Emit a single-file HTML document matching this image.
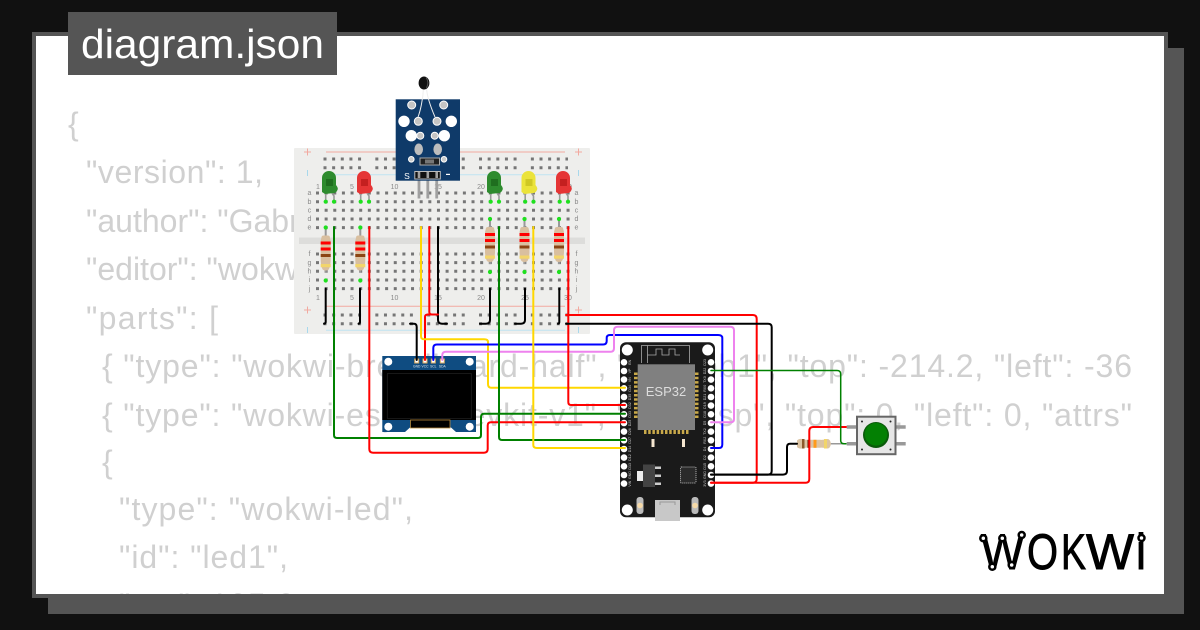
<!DOCTYPE html>
<html><head><meta charset="utf-8"><style>
html,body{margin:0;padding:0;background:#111;width:1200px;height:630px;overflow:hidden}
svg{display:block;font-family:"Liberation Sans",sans-serif}
.c{font-size:32px;fill:#d0d0d0}
.w{fill:none;stroke-width:2;stroke-linejoin:round;stroke-linecap:round}
.p{font-size:3.6px;fill:#ccc}
.n{font-size:7px;fill:#8a8a8a;text-anchor:middle}
</style></head><body>
<svg width="1200" height="630" viewBox="0 0 1200 630" xmlns="http://www.w3.org/2000/svg">
<defs>
<clipPath id="cl"><rect x="36" y="36" width="1096" height="558"/></clipPath>
<g id="legs"><path d="M-3.3 22V29.5M3 22L5 25V30" stroke="#999" stroke-width="1.6" fill="none"/>
<circle cx="-3.3" cy="30.7" r="2.1" fill="#1ee01e"/><circle cx="5" cy="30.7" r="2.1" fill="#1ee01e"/></g>
<g id="res"><rect x="-1" y="-9" width="2" height="44" fill="#999"/>
<path d="M-4.2 0Q-4.2 -2 -2 -2H2Q4.200 -2 4.200 0Q5 2 5 5V23Q5 26 4.200 28Q4.200 33 0 33Q-4.200 33 -4.200 28Q-5 26 -5 23V5Q-5 2 -4.200 0Z" fill="#d9bf9f"/>
<rect x="-5" y="4" width="10" height="3" fill="#f00"/><rect x="-5" y="10" width="10" height="3" fill="#f00"/>
<rect x="-5" y="16.5" width="10" height="3" fill="#8b4513"/><rect x="-5" y="26.5" width="10" height="3.2" fill="#f2d56a"/>
<circle cy="-10" r="2.1" fill="#1ee01e"/><circle cy="43" r="2.1" fill="#1ee01e"/></g>
</defs>

<rect x="48" y="48" width="1136" height="566" fill="#555"/>
<rect x="32" y="32" width="1136" height="566" fill="#555"/>
<rect x="36" y="36" width="1128" height="558" fill="#fff"/>

<g clip-path="url(#cl)" class="c">
<text x="68" y="135" class="c">{</text>
<text x="86" y="183" class="c" textLength="177">"version": 1,</text>
<text x="86" y="232" class="c">"author": "Gabriel Santos",</text>
<text x="86" y="280" class="c">"editor": "wokwi",</text>
<text x="86" y="329" class="c" textLength="132">"parts": [</text>
<text x="102" y="377" class="c" textLength="1030">{ "type": "wokwi-breadboard-half", "id": "bb1", "top": -214.2, "left": -36</text>
<text x="102" y="426" class="c" textLength="1030">{ "type": "wokwi-esp32-devkit-v1", "id": "esp", "top": 0, "left": 0, "attrs"</text>
<text x="102" y="473" class="c">{</text>
<text x="119" y="520" class="c" textLength="294">"type": "wokwi-led",</text>
<text x="119" y="568" class="c" textLength="169">"id": "led1",</text>
<text x="119" y="616" class="c" textLength="185">"top": 105.6,</text>
</g>

<rect x="68" y="12" width="269" height="63" fill="#555"/>
<text x="81" y="58" font-size="41" fill="#fff" textLength="243" lengthAdjust="spacingAndGlyphs">diagram.json</text>

<!-- Breadboard -->
<rect x="294" y="148" width="296" height="186" rx="1" fill="#eeeeec"/>
<rect x="299" y="237.5" width="286" height="6.5" fill="#dddddb"/>
<path d="M326 152H565M326 306.3H565" stroke="#f2a9a0" stroke-width="1"/>
<path d="M326 174.7H565M326 330.3H565" stroke="#bfe3f2" stroke-width="1"/>
<path d="M304 152H311M307.5 148.5V155.5M575 152H582M578.5 148.5V155.5M304 310H311M307.5 306.5V313.5M575 310H582M578.5 306.5V313.5" stroke="#f2a9a0" stroke-width="1"/>
<path d="M307.5 170V176M578.5 170V176M307.5 327V333M578.5 327V333" stroke="#a8d8ec" stroke-width="1"/>
<g stroke="#767676" stroke-width="3" stroke-dasharray="3 5.64 3 5.64 3 5.64 3 5.64 3 14.28">
<path d="M323.5 159H568M323.5 167.7H568M323.5 315H568M323.5 323.7H568"/></g>
<g stroke="#767676" stroke-width="3" stroke-dasharray="3 5.64">
<path d="M316 193H570M316 201.7H570M316 210.3H570M316 219H570M316 227.6H570M316 254H570M316 262.6H570M316 271.3H570M316 280H570M316 288.6H570"/></g>
<g class="n">
<text x="318" y="189" class="n">1</text><text x="352" y="189" class="n">5</text><text x="394.500" y="189" class="n">10</text><text x="438" y="189" class="n">15</text><text x="481" y="189" class="n">20</text><text x="525" y="189" class="n">25</text><text x="568" y="189" class="n">30</text>
<text x="318" y="300" class="n">1</text><text x="352" y="300" class="n">5</text><text x="394.500" y="300" class="n">10</text><text x="438" y="300" class="n">15</text><text x="481" y="300" class="n">20</text><text x="525" y="300" class="n">25</text><text x="568" y="300" class="n">30</text>
<text x="309.500" y="195" class="n">a</text><text x="309.500" y="204" class="n">b</text><text x="309.500" y="212.500" class="n">c</text><text x="309.500" y="221" class="n">d</text><text x="309.500" y="229.500" class="n">e</text>
<text x="309.500" y="256" class="n">f</text><text x="309.500" y="265" class="n">g</text><text x="309.500" y="273.500" class="n">h</text><text x="309.500" y="282" class="n">i</text><text x="309.500" y="291" class="n">j</text>
<text x="576.500" y="195" class="n">a</text><text x="576.500" y="204" class="n">b</text><text x="576.500" y="212.500" class="n">c</text><text x="576.500" y="221" class="n">d</text><text x="576.500" y="229.500" class="n">e</text>
<text x="576.500" y="256" class="n">f</text><text x="576.500" y="265" class="n">g</text><text x="576.500" y="273.500" class="n">h</text><text x="576.500" y="282" class="n">i</text><text x="576.500" y="291" class="n">j</text>
</g>

<!-- Sensor module -->
<path d="M419 173V198.500M427.800 173V198.500M436.700 173V198.500" stroke="#a0a0a0" stroke-width="2.800"/>
<rect x="395.700" y="99.300" width="64.300" height="81.400" fill="#0f3a69"/>
<g fill="#fff"><circle cx="404" cy="121.300" r="5.700"/><circle cx="451.300" cy="121.300" r="5.700"/><circle cx="411.300" cy="135.700" r="5.700"/><circle cx="444.300" cy="135.700" r="5.700"/></g>
<g fill="#c4c4c4" stroke="#fff" stroke-width="1"><circle cx="411.700" cy="105" r="4"/><circle cx="443.700" cy="105" r="4"/><circle cx="418.300" cy="121.300" r="4"/><circle cx="437" cy="121.300" r="4"/><circle cx="420.300" cy="135.700" r="3.500"/><circle cx="434.700" cy="135.700" r="3.500"/></g>
<ellipse cx="418.700" cy="149.300" rx="4.300" ry="5.800" fill="#bdbdbd"/><ellipse cx="437.700" cy="149.300" rx="4.300" ry="5.800" fill="#bdbdbd"/>
<circle cx="411.300" cy="159.300" r="2.800" fill="#ccc" stroke="#fff"/><circle cx="444" cy="159.300" r="2.800" fill="#ccc" stroke="#fff"/>
<rect x="420" y="158" width="19.500" height="7" fill="#222" stroke="#aaa" stroke-width="1"/><rect x="425" y="159.500" width="9" height="4" fill="#777"/>
<text x="407" y="179" font-size="8.500" fill="#fff" text-anchor="middle">S</text>
<rect x="446" y="173.800" width="4" height="1.200" fill="#fff"/>
<rect x="414.800" y="171.500" width="25.500" height="7.500" fill="#111" stroke="#bbb" stroke-width="1"/>
<path d="M419 172V178M427.800 172V178M436.700 172V178" stroke="#a0a0a0" stroke-width="2.600"/>
<path d="M423.500 88C423 100 420 112 418 117M426.500 88C427 98 432 110 435 117" stroke="#eee" stroke-width="1" fill="none"/>
<ellipse cx="424" cy="83" rx="5.400" ry="6.500" fill="#111"/><path d="M426 77.500Q429.500 82 426.500 88" stroke="#555" stroke-width="1" fill="none"/>

<!-- LEDs -->
<g transform="translate(329,171)"><use href="#legs"/><path d="M-7 21V7A7 7 0 0 1 7 7V14Q9.500 17 8.500 19Q7 22 5 22L-4 23Z" fill="#2e8b2e"/><rect x="-3" y="8" width="7" height="7" fill="#1f6e1f"/></g>
<g transform="translate(364,171)"><use href="#legs"/><path d="M-7 21V7A7 7 0 0 1 7 7V14Q9.500 17 8.500 19Q7 22 5 22L-4 23Z" fill="#e53535"/><rect x="-3" y="8" width="7" height="7" fill="#c42020"/></g>
<g transform="translate(494,171)"><use href="#legs"/><path d="M-7 21V7A7 7 0 0 1 7 7V14Q9.500 17 8.500 19Q7 22 5 22L-4 23Z" fill="#2e8b2e"/><rect x="-3" y="8" width="7" height="7" fill="#1f6e1f"/></g>
<g transform="translate(528.500,171)"><use href="#legs"/><path d="M-7 21V7A7 7 0 0 1 7 7V14Q9.500 17 8.500 19Q7 22 5 22L-4 23Z" fill="#ebe33a"/><rect x="-3" y="8" width="7" height="7" fill="#cfc824"/></g>
<g transform="translate(563,171)"><use href="#legs"/><path d="M-7 21V7A7 7 0 0 1 7 7V14Q9.500 17 8.500 19Q7 22 5 22L-4 23Z" fill="#e53535"/><rect x="-3" y="8" width="7" height="7" fill="#c42020"/></g>

<!-- vertical resistors -->
<use href="#res" x="325.700" y="237.500"/><use href="#res" x="360.300" y="237.500"/>
<use href="#res" x="490" y="229"/><use href="#res" x="524.500" y="229"/><use href="#res" x="559" y="229"/>

<!-- OLED -->
<path d="M382.300 356H476V432H456L451 427.500H410L405 432H382.300Z" fill="#0f4c81"/>
<rect x="382.300" y="370" width="93.700" height="50" fill="#000"/>
<rect x="387.300" y="373.500" width="84" height="45" fill="none" stroke="#222" stroke-width="0.700"/>
<rect x="410.500" y="420" width="39.500" height="8" fill="#000" stroke="#b8893a" stroke-width="0.800"/>
<g fill="#fff"><circle cx="388.300" cy="361.700" r="4"/><circle cx="469.700" cy="361.700" r="4"/><circle cx="388.300" cy="426.700" r="4"/><circle cx="469.700" cy="426.700" r="4"/></g>
<g fill="#fff" stroke="#d9a860" stroke-width="1"><rect x="414.700" y="359" width="4" height="4"/><rect x="423" y="359" width="4" height="4"/><rect x="431.300" y="359" width="4" height="4"/><rect x="440.300" y="359" width="4" height="4"/></g>
<g font-size="3.300" fill="#dfe8f0" text-anchor="middle"><text x="416.700" y="367.500">GND</text><text x="425" y="367.500">VCC</text><text x="433.300" y="367.500">SCL</text><text x="442.300" y="367.500">SDA</text></g>

<!-- ESP32 -->
<rect x="620" y="342.300" width="95" height="175" rx="6" fill="#1a1a1a"/>
<g fill="#fff"><circle cx="627.300" cy="350" r="5.500"/><circle cx="707.700" cy="350" r="5.500"/><circle cx="627.300" cy="510" r="5.500"/><circle cx="707.700" cy="510" r="5.500"/></g>
<path d="M641.500 363V345.500H689.500V363M647.500 363V345.500M647.500 355H656V349H662V355H669V349H675V355H680" fill="none" stroke="#aaa" stroke-width="0.800"/>
<g fill="#c9a94a">
<path d="M634 372.500h3.500v2.500h-3.500zM634 376.800h3.500v2.500h-3.500zM634 381.100h3.500v2.500h-3.500zM634 385.400h3.500v2.500h-3.500zM634 389.700h3.500v2.500h-3.500zM634 394h3.500v2.500h-3.500zM634 398.300h3.500v2.500h-3.500zM634 402.600h3.500v2.500h-3.500zM634 406.900h3.500v2.500h-3.500zM634 411.200h3.500v2.500h-3.500zM634 415.500h3.500v2.500h-3.500z"/>
<path d="M695 372.500h3.500v2.500h-3.500zM695 376.800h3.500v2.500h-3.500zM695 381.100h3.500v2.500h-3.500zM695 385.400h3.500v2.500h-3.500zM695 389.700h3.500v2.500h-3.500zM695 394h3.500v2.500h-3.500zM695 398.300h3.500v2.500h-3.500zM695 402.600h3.500v2.500h-3.500zM695 406.900h3.500v2.500h-3.500zM695 411.200h3.500v2.500h-3.500zM695 415.500h3.500v2.500h-3.500z"/>
<path d="M644 430h2.500v4h-2.500zM648.200 430h2.500v4h-2.500zM652.400 430h2.500v4h-2.500zM656.600 430h2.500v4h-2.500zM660.800 430h2.500v4h-2.500zM665 430h2.500v4h-2.500zM669.200 430h2.500v4h-2.500zM673.400 430h2.500v4h-2.500zM677.600 430h2.500v4h-2.500zM681.800 430h2.500v4h-2.500zM686 430h2.500v4h-2.500z"/></g>
<rect x="637.700" y="364.300" width="57.300" height="65.700" fill="#808080"/>
<text x="666" y="396" font-size="13" fill="#ddd" text-anchor="middle">ESP32</text>
<g fill="#fff"><circle cx="624" cy="362.300" r="3.300"/><circle cx="624" cy="371" r="3.300"/><circle cx="624" cy="379.600" r="3.300"/><circle cx="624" cy="388.300" r="3.300"/><circle cx="624" cy="397" r="3.300"/><circle cx="624" cy="405.600" r="3.300"/><circle cx="624" cy="414.300" r="3.300"/><circle cx="624" cy="423" r="3.300"/><circle cx="624" cy="431.600" r="3.300"/><circle cx="624" cy="440.300" r="3.300"/><circle cx="624" cy="449" r="3.300"/><circle cx="624" cy="457.600" r="3.300"/><circle cx="624" cy="466.300" r="3.300"/><circle cx="624" cy="475" r="3.300"/><circle cx="624" cy="483.600" r="3.300"/>
<circle cx="711" cy="362.300" r="3.300"/><circle cx="711" cy="371" r="3.300"/><circle cx="711" cy="379.600" r="3.300"/><circle cx="711" cy="388.300" r="3.300"/><circle cx="711" cy="397" r="3.300"/><circle cx="711" cy="405.600" r="3.300"/><circle cx="711" cy="414.300" r="3.300"/><circle cx="711" cy="423" r="3.300"/><circle cx="711" cy="431.600" r="3.300"/><circle cx="711" cy="440.300" r="3.300"/><circle cx="711" cy="449" r="3.300"/><circle cx="711" cy="457.600" r="3.300"/><circle cx="711" cy="466.300" r="3.300"/><circle cx="711" cy="475" r="3.300"/><circle cx="711" cy="483.600" r="3.300"/></g>
<g class="p" text-anchor="middle">
<text transform="translate(631,362.300) rotate(-90)" class="p">EN</text><text transform="translate(631,371) rotate(-90)" class="p">VP</text><text transform="translate(631,379.600) rotate(-90)" class="p">VN</text><text transform="translate(631,388.300) rotate(-90)" class="p">D34</text><text transform="translate(631,397) rotate(-90)" class="p">D35</text><text transform="translate(631,405.600) rotate(-90)" class="p">D32</text><text transform="translate(631,414.300) rotate(-90)" class="p">D33</text><text transform="translate(631,423) rotate(-90)" class="p">D25</text><text transform="translate(631,431.600) rotate(-90)" class="p">D26</text><text transform="translate(631,440.300) rotate(-90)" class="p">D27</text><text transform="translate(631,449) rotate(-90)" class="p">D14</text><text transform="translate(631,457.600) rotate(-90)" class="p">D12</text><text transform="translate(631,466.300) rotate(-90)" class="p">D13</text><text transform="translate(631,475) rotate(-90)" class="p">GND</text><text transform="translate(631,483.600) rotate(-90)" class="p">VIN</text>
<text transform="translate(706,362.300) rotate(-90)" class="p">D23</text><text transform="translate(706,371) rotate(-90)" class="p">D22</text><text transform="translate(706,379.600) rotate(-90)" class="p">TX0</text><text transform="translate(706,388.300) rotate(-90)" class="p">RX0</text><text transform="translate(706,397) rotate(-90)" class="p">D21</text><text transform="translate(706,405.600) rotate(-90)" class="p">D19</text><text transform="translate(706,414.300) rotate(-90)" class="p">D18</text><text transform="translate(706,423) rotate(-90)" class="p">D5</text><text transform="translate(706,431.600) rotate(-90)" class="p">TX2</text><text transform="translate(706,440.300) rotate(-90)" class="p">RX2</text><text transform="translate(706,449) rotate(-90)" class="p">D4</text><text transform="translate(706,457.600) rotate(-90)" class="p">D2</text><text transform="translate(706,466.300) rotate(-90)" class="p">D15</text><text transform="translate(706,475) rotate(-90)" class="p">GND</text><text transform="translate(706,483.600) rotate(-90)" class="p">3V3</text>
</g>
<rect x="651.500" y="439" width="3" height="8" fill="#f5e6d0"/><rect x="682" y="439" width="3" height="8" fill="#f5e6d0"/>
<rect x="643" y="464.500" width="12" height="22.500" fill="#444"/><rect x="637" y="471" width="6" height="10" fill="#eee"/>
<path d="M655 466.500h6v2.500h-6zM655 474.500h6v2.500h-6zM655 482.500h6v2.500h-6z" fill="#ccc"/>
<rect x="680.500" y="467" width="15.500" height="16" rx="1" fill="#2a2a2a" stroke="#bbb" stroke-width="1" stroke-dasharray="1 1"/>
<rect x="636.500" y="497" width="7" height="17" rx="3" fill="#bbb"/><circle cx="640" cy="505.500" r="2.800" fill="#f5d9a8"/>
<rect x="691.500" y="497" width="7" height="17" rx="3" fill="#bbb"/><circle cx="695" cy="505.500" r="2.800" fill="#f5d9a8"/>
<rect x="655" y="500" width="25" height="21" fill="#c8c8c8"/><path d="M660 505V502H675V505" fill="none" stroke="#999" stroke-width="1"/>

<!-- Pushbutton -->
<path d="M846.700 427H856M846.700 443.700H856M896 427H905.700M896 443.700H905.700" stroke="#999" stroke-width="3.500"/>
<rect x="857" y="416.700" width="38.500" height="37.500" fill="#e6e6e6" stroke="#666" stroke-width="2"/>
<g fill="#222"><circle cx="862" cy="421.500" r="1"/><circle cx="890.500" cy="421.500" r="1"/><circle cx="862" cy="449.500" r="1"/><circle cx="890.500" cy="449.500" r="1"/></g>
<circle cx="876" cy="435" r="13" fill="#0a5a0a"/><circle cx="876" cy="434.300" r="11.300" fill="#038003"/>

<!-- horizontal resistor -->
<path d="M790 443.700H846" stroke="#999" stroke-width="1.500"/>
<path d="M797 440.500Q799 438.500 802 439Q805 440 808 439.800H820Q824 440 827 439Q830 438.500 831 443.700Q830 449 827 448.500Q824 447.500 820 447.700H808Q805 447.500 802 448.500Q799 449 797 447Z" fill="#dcc4a4"/>
<rect x="802" y="439" width="2.500" height="9.500" fill="#8b5a2b"/><rect x="807.500" y="439.800" width="2.500" height="8" fill="#5a1d00"/><rect x="813.500" y="439.800" width="3" height="8" fill="#ff9a1a"/><rect x="824" y="439" width="3" height="9.500" fill="#f2d56a"/>

<!-- Wires -->
<g class="w" stroke="#000">
<path d="M325.700 288.600V322Q325.700 323.700 324 323.700"/>
<path d="M360 288.600V322Q360 323.700 358.500 323.700"/>
<path d="M490 288.600V320Q490 323.700 486 323.700H480"/>
<path d="M525 288.600V320Q525 323.700 521 323.700H515"/>
<path d="M559.300 288.600V322Q559.300 323.700 558 323.700"/>
<path d="M438 227V320Q438 323.700 442 323.700H447"/>
<path d="M410 323.700H414Q416.700 323.700 416.700 327V360"/>
</g>
<path class="w" stroke="#f00" d="M429.300 227V312Q429.300 314.500 432 314.500H438"/>
<path class="w" stroke="#f00" d="M425 360V317Q425 314.500 428 314.500H431"/>
<path class="w" stroke="#ffd700" d="M421 227V336Q421 339.300 424 339.300H484Q488 339.300 488 342V384Q488 387.700 491 387.700H625"/>
<path class="w" stroke="#00f" d="M433.300 360V348Q433.300 344.500 437 344.500H603Q606.700 344.500 606.700 341V338Q606.700 335 610 335H718Q722.300 335 722.300 338V444.500Q722.300 448 719 448H711"/>
<path class="w" stroke="#ee82ee" d="M442.300 360V355Q442.300 351.700 446 351.700H611Q614 351.700 614 348V330Q614 326.700 618 326.700H730Q734 326.700 734 330V419Q734 422.300 731 422.300H711"/>
<path class="w" stroke="#008000" d="M334 227V435Q334 438 337 438H478Q481 438 481 435V417Q481 413.700 484 413.700H625"/>
<path class="w" stroke="#f00" d="M369.300 227V449Q369.300 452.700 373 452.700H484Q487.700 452.700 487.700 449V425.500Q487.700 422.300 491 422.300H625"/>
<path class="w" stroke="#008000" d="M499 227V437Q499 440 502 440H625"/>
<path class="w" stroke="#ffd700" d="M533.300 227V445Q533.300 448 537 448H625"/>
<path class="w" stroke="#f00" d="M568.300 227V402Q568.300 405 571 405H625"/>
<path class="w" stroke="#f00" d="M566 315H753Q756.700 315 756.700 319V479Q756.700 482.700 753 482.700H711"/>
<path class="w" stroke="#000" d="M566 323.700H768Q771.700 323.700 771.700 327V471Q771.700 474.600 768 474.600H711"/>
<path class="w" stroke="#000" d="M711 474.600H783Q787 474.600 787 471V447Q787 443.700 790 443.700H797"/>
<path class="w" stroke="#f00" d="M711 482.700H806Q809.300 482.700 809.300 479V431Q809.300 427 813 427H846"/>
<path class="w" stroke="#008000" style="stroke-width:1.500" d="M711 370.500H837Q840.700 370.500 840.700 374V440.500Q840.700 443.700 844 443.700H846"/>

<!-- Logo -->
<g fill="#000" stroke="#000" stroke-width="0.900">
<text x="981" y="569" font-size="50" textLength="43" lengthAdjust="spacingAndGlyphs">W</text>
<text x="1027" y="569" font-size="50" textLength="31" lengthAdjust="spacingAndGlyphs">O</text>
<text x="1061" y="569" font-size="50" textLength="25" lengthAdjust="spacingAndGlyphs">K</text>
<text x="1086" y="569" font-size="50" textLength="48" lengthAdjust="spacingAndGlyphs">W</text>
<text x="1136" y="569" font-size="50" textLength="10" lengthAdjust="spacingAndGlyphs">i</text>
</g>
<g fill="#fff" stroke="#000" stroke-width="2.500"><circle cx="983.300" cy="538.300" r="3"/><circle cx="1002.300" cy="538.300" r="3"/><circle cx="1021.700" cy="535" r="3"/><circle cx="992.300" cy="566.700" r="3"/><circle cx="1011.700" cy="565" r="3"/><circle cx="1141.500" cy="538" r="3"/></g>
</svg>
</body></html>
